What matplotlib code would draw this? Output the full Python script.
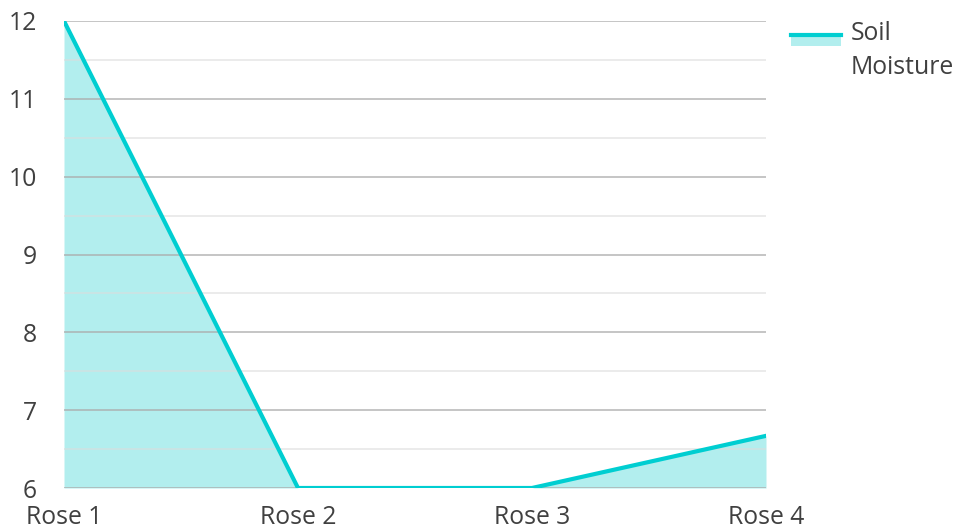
import matplotlib.pyplot as plt
from matplotlib.patches import Rectangle
from matplotlib.lines import Line2D

plt.rcParams['font.family'] = ['Open Sans', 'DejaVu Sans']

categories = ["Rose 1", "Rose 2", "Rose 3", "Rose 4"]
soil_moisture = [12, 6, 6, 6.67]

line_color = "#00CED1"
fill_color = "#B2EEEE"
text_color = "#404040"
fs = 17.8

W, H = 956, 529
fig = plt.figure(figsize=(W / 100, H / 100), dpi=100)
ax = fig.add_axes([64 / W, 1 - 488 / H, (766 - 64) / W, (488 - 21) / H])

x = list(range(len(categories)))
ax.fill_between(x, 6, soil_moisture, color=fill_color, lw=0, zorder=1)
ax.plot(x, soil_moisture, color=line_color, lw=3, zorder=3, solid_joinstyle="miter")

ax.set_xlim(0, len(categories) - 1)
ax.set_ylim(6, 12)
ax.set_yticks(range(6, 13))
ax.set_xticks(x)
ax.set_xticklabels(categories)

# grid drawn above the fill
for v in range(6, 13):
    ax.axhline(v, color="#ABABAB", lw=1.3, alpha=0.75, zorder=2)
for v in range(6, 12):
    ax.axhline(v + 0.5, color="#DCDCDC", lw=1.3, alpha=0.6, zorder=2)

for s in ax.spines.values():
    s.set_visible(False)
ax.tick_params(axis="both", which="both", length=0, labelsize=fs, colors=text_color)
ax.tick_params(axis="y", pad=19.5)
ax.tick_params(axis="x", pad=12)

# legend
fig.add_artist(Rectangle((791 / W, 1 - 46 / H), 50 / W, 13 / H, transform=fig.transFigure,
                         facecolor=fill_color, edgecolor="none"))
fig.add_artist(Line2D([791 / W, 841 / W], [1 - 34.5 / H, 1 - 34.5 / H], transform=fig.transFigure,
                      color=line_color, lw=3))
fig.text(851 / W, 1 - 33 / H, "Soil", fontsize=fs, color=text_color, va="center", ha="left")
fig.text(851 / W, 1 - 67 / H, "Moisture", fontsize=fs, color=text_color, va="center", ha="left")

fig.savefig("out.png", dpi=100)
